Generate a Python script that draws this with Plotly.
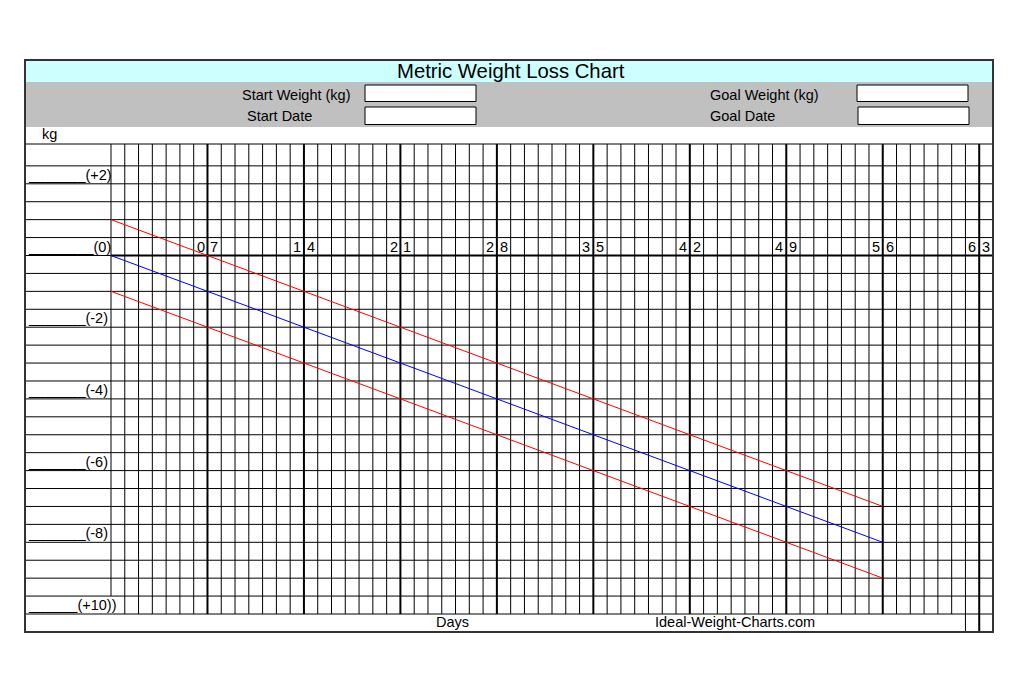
import plotly.graph_objects as go

# ---------------- data ----------------
title_text = "Metric Weight Loss Chart"
header_left = ["Start Weight (kg)", "Start Date"]
header_right = ["Goal Weight (kg)", "Goal Date"]
footer_texts = ["Days", "Ideal-Weight-Charts.com"]

line_days = [0, 56]
target_kg = [0, -8]      # blue target line
upper_kg = [1, -7]       # red upper band
lower_kg = [-1, -9]      # red lower band

week_days = [7, 14, 21, 28, 35, 42, 49, 56, 63]
week_labels = ["07", "14", "21", "28", "35", "42", "49", "56", "63"]

kg_label_values = [2, 0, -2, -4, -6, -8, -10]
kg_label_texts = ["(+2)", "(0)", "(-2)", "(-4)", "(-6)", "(-8)", "(+10))"]
kg_label_underscores = [7, 8, 7, 7, 7, 7, 6]

grid_days_max = 64
grid_kg_min = -10
grid_kg_step = 0.5

# ---------------- geometry (pixel mapping) ----------------
W, H = 1024, 687
X0 = 111.0            # pixel of day 0
DPX = 882.0 / 64      # pixels per day
Y0 = 255.5            # pixel of 0 kg
KPX = 35.85           # pixels per kg


def dx(px):
    return (px - X0) / DPX


def dy(py):
    return (Y0 - py) / KPX


FONT = "Liberation Sans, Arial, sans-serif"
FS = 14.5
LEFT, RIGHT, TOP, BOTTOM = 25, 993, 60, 632
GRID_TOP = 144

fig = go.Figure()

shapes = []


def rect(x0, y0, x1, y1, fill, line_color=None, width=0, layer="below"):
    shapes.append(dict(type="rect", xref="x", yref="y",
                       x0=dx(x0), x1=dx(x1), y0=dy(y0), y1=dy(y1),
                       fillcolor=fill,
                       line=dict(color=line_color or fill, width=width),
                       layer=layer))


def seg(x0, y0, x1, y1, color="#000", width=1, layer="below"):
    shapes.append(dict(type="line", xref="x", yref="y",
                       x0=x0, x1=x1, y0=y0, y1=y1,
                       line=dict(color=color, width=width), layer=layer))


# header bands
rect(LEFT, TOP, RIGHT, 82, "#CCFFFF")
rect(LEFT, 82, RIGHT, 127, "#C0C0C0")
# input boxes
rect(365, 85, 476, 101.5, "white", "#000", 1)
rect(365, 107, 476, 124.5, "white", "#000", 1)
rect(857, 85, 968, 101.5, "white", "#000", 1)
rect(858, 107, 969, 124.5, "white", "#000", 1)

kg_top = dy(GRID_TOP)
left_d = dx(LEFT)

# horizontal grid lines
n_rows = int(round((2.5 - grid_kg_min) / grid_kg_step))
for i in range(n_rows + 1):
    k = grid_kg_min + i * grid_kg_step
    if abs(k) < 1e-9:
        seg(left_d, 0, 0, 0, "#000", 1)
        seg(0, 0, grid_days_max, 0, "#000", 2)
    else:
        seg(left_d, k, grid_days_max, k, "#000", 1)
seg(left_d, kg_top, grid_days_max, kg_top, "#000", 1)

# vertical grid lines
for d in range(0, grid_days_max):
    y_bottom = grid_kg_min
    if d == 0:
        y_bottom = grid_kg_min + grid_kg_step
    if d in (62, 63):
        y_bottom = dy(BOTTOM)
    w = 2 if d in week_days else 1
    seg(d, kg_top, d, y_bottom, "#000", w)

# outer border
shapes.append(dict(type="rect", xref="x", yref="y",
                   x0=dx(LEFT), x1=dx(RIGHT), y0=dy(TOP), y1=dy(BOTTOM),
                   line=dict(color="#333", width=2), layer="above"))

# ---------------- traces ----------------
fig.add_trace(go.Scatter(x=line_days, y=upper_kg, mode="lines",
                         line=dict(color="#FF0000", width=1), hoverinfo="skip"))
fig.add_trace(go.Scatter(x=line_days, y=target_kg, mode="lines",
                         line=dict(color="#0000FF", width=1), hoverinfo="skip"))
fig.add_trace(go.Scatter(x=line_days, y=lower_kg, mode="lines",
                         line=dict(color="#FF0000", width=1), hoverinfo="skip"))

# ---------------- text ----------------
ann = []


def text(t, px, py, size=FS, xanchor="center"):
    ann.append(dict(text=t, x=dx(px), y=dy(py), xref="x", yref="y",
                    showarrow=False, xanchor=xanchor, yanchor="middle",
                    font=dict(family=FONT, size=size, color="#000")))


text(title_text, 510.5, 71, size=20.3)
text(header_left[0], 353, 95, xanchor="right")
text(header_left[1], 279.5, 116)
text(header_right[0], 708, 95, xanchor="left")
text(header_right[1], 708, 116, xanchor="left")
text("kg", 39.5, 134, xanchor="left")
text(footer_texts[0], 452, 622)
text(footer_texts[1], 734.5, 622)

# weekly day labels (two digits split around the week line)
for d, lab in zip(week_days, week_labels):
    for off, ch in zip((-0.5, 0.5), lab):
        ann.append(dict(text=ch, x=d + off, y=0.25, xref="x", yref="y",
                        showarrow=False, xanchor="center", yanchor="middle",
                        font=dict(family=FONT, size=FS, color="#000")))

# left kg labels
for k, lab, n in zip(kg_label_values, kg_label_texts, kg_label_underscores):
    ann.append(dict(text="_" * n + lab, x=dx(25.5), y=k + 0.25,
                    xref="x", yref="y", showarrow=False,
                    xanchor="left", yanchor="middle",
                    font=dict(family=FONT, size=FS, color="#000")))

fig.update_layout(
    width=W, height=H,
    margin=dict(l=0, r=0, t=0, b=0, pad=0),
    paper_bgcolor="white", plot_bgcolor="white",
    showlegend=False,
    xaxis=dict(range=[dx(0), dx(W)], visible=False, fixedrange=True),
    yaxis=dict(range=[dy(H), dy(0)], visible=False, fixedrange=True),
    shapes=shapes, annotations=ann,
)

fig.write_html("out.html", config={"displayModeBar": False})
